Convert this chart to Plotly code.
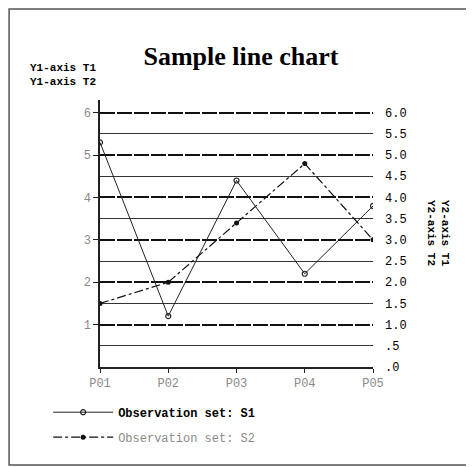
import plotly.graph_objects as go

# data
points = ["P01", "P02", "P03", "P04", "P05"]
s1 = [5.3, 1.2, 4.4, 2.2, 3.8]
s2 = [1.5, 2.0, 3.4, 4.8, 3.0]

y1_ticks = [1, 2, 3, 4, 5, 6]
y1_minor = [0.5, 1.5, 2.5, 3.5, 4.5, 5.5]
y2_ticks = [0, 0.5, 1, 1.5, 2, 2.5, 3, 3.5, 4, 4.5, 5, 5.5, 6]
y2_labels = [".0", ".5", "1.0", "1.5", "2.0", "2.5", "3.0", "3.5",
             "4.0", "4.5", "5.0", "5.5", "6.0"]

mono = "Liberation Mono"
grey = "#8a8a8a"

fig = go.Figure()

fig.add_trace(go.Scatter(
    x=points, y=s1, mode="lines+markers",
    name="<b>Observation set: S1</b>",
    line=dict(color="#222", width=1),
    marker=dict(symbol="circle-open", size=5, color="#222", line=dict(width=1.2)),
    legendgroup="a",
))
fig.add_trace(go.Scatter(
    x=points, y=s2, mode="lines+markers",
    name="<span style='color:#8a8a8a'>Observation set: S2</span>",
    line=dict(color="#111", width=1.2, dash="dashdot"),
    marker=dict(symbol="circle", size=5, color="#111"),
    legendgroup="b",
))
# invisible trace to carry the right-hand axis
fig.add_trace(go.Scatter(x=points, y=s1, yaxis="y2", mode="none",
                         showlegend=False, hoverinfo="skip"))

# the page body adds an 8px margin, so the figure is 8px smaller
fig.update_layout(
    width=466, height=459,
    margin=dict(l=92, r=101, t=92, b=100),
    paper_bgcolor="white", plot_bgcolor="white",
    title=dict(text="<b>Sample line chart</b>", x=0.5, xanchor="center",
               y=0.895, yanchor="middle",
               font=dict(family="Liberation Serif", size=26, color="black")),
    xaxis=dict(type="category", range=[0, 4], showgrid=False,
               showline=True, linecolor="#222", linewidth=1.5,
               ticks="outside", ticklen=4, tickcolor="#222",
               tickfont=dict(family=mono, size=12, color=grey)),
    yaxis=dict(range=[0, 6.3], tickvals=y1_ticks, showline=True,
               linecolor="#222", linewidth=1.5, zeroline=False,
               ticks="outside", ticklen=5, tickcolor="#222",
               tickfont=dict(family=mono, size=12, color=grey),
               showgrid=True, gridcolor="#111", gridwidth=2.2,
               griddash="15px,2px",
               minor=dict(tickvals=y1_minor, showgrid=True, griddash="solid",
                          gridcolor="#333", gridwidth=1, ticks="")),
    yaxis2=dict(range=[0, 6.3], overlaying="y", side="right",
                tickvals=y2_ticks, ticktext=y2_labels, showgrid=False,
                zeroline=False, showline=False, ticks="", ticklabelstandoff=11,
                tickfont=dict(family=mono, size=12, color="black")),
    showlegend=True,
    legend=dict(x=-0.19, y=-0.115, xanchor="left", yanchor="top",
                traceorder="grouped", tracegroupgap=6, itemwidth=60,
                font=dict(family=mono, size=12, color="black"),
                bgcolor="rgba(0,0,0,0)"),
    hovermode=False,
)

fig.add_annotation(text="<b>Y1-axis T1</b><br><b>Y1-axis T2</b>",
                   xref="paper", yref="paper", x=-0.264, y=1.094,
                   xanchor="left", yanchor="middle", align="left",
                   showarrow=False, font=dict(family=mono, size=11, color="black"))
fig.add_annotation(text="<b>Y2-axis T1</b><br><b>Y2-axis T2</b>",
                   xref="paper", yref="paper", x=1.238, y=0.502,
                   xanchor="center", yanchor="middle", textangle=90,
                   showarrow=False, font=dict(family=mono, size=11, color="black"))

# outer frame around the whole chart
fig.add_shape(type="rect", xref="paper", yref="paper",
              x0=-0.333, x1=1.357, y0=-0.367, y1=1.341,
              line=dict(color="#555", width=1.5))

fig.write_html("out.html")
